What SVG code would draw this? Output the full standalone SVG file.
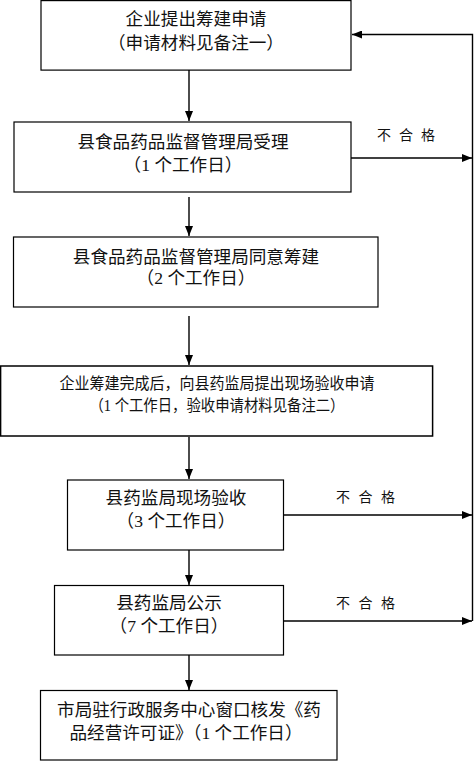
<svg xmlns="http://www.w3.org/2000/svg" width="475" height="762" viewBox="0 0 475 762">
<defs>
<marker id="ah" viewBox="0 0 10 8" refX="10" refY="4" markerWidth="10" markerHeight="8" markerUnits="userSpaceOnUse" orient="auto">
<path d="M0,0 L10,4 L0,8 Z" fill="#000"/>
</marker>
</defs>
<style>
.box{fill:#fff;stroke:#000;stroke-width:1.2}
.t{font-family:"Liberation Serif","Noto Sans CJK SC",serif;font-size:17.6px;fill:#111;text-anchor:middle}
.s{font-family:"Liberation Serif","Noto Sans CJK SC",serif;font-size:14px;fill:#111}
.c{fill:none;stroke:#000;stroke-width:1.4}
</style>
<rect width="475" height="762" fill="#fff"/>
<g id="n1"><rect class="box" x="41" y="0.6" width="310" height="69.5"/>
<text class="t" x="196" y="25">企业提出筹建申请</text>
<text class="t" x="196" y="49">（申请材料见备注一）</text></g>
<g id="n2"><rect class="box" x="14" y="122" width="337" height="70"/>
<text class="t" x="183" y="148">县食品药品监督管理局受理</text>
<text class="t" x="183" y="171">（1 个工作日）</text></g>
<g id="n3"><rect class="box" x="13.5" y="237" width="364.5" height="70"/>
<text class="t" x="196" y="263">县食品药品监督管理局同意筹建</text>
<text class="t" x="196" y="284">（2 个工作日）</text></g>
<g id="n4"><rect class="box" x="0.6" y="366" width="432" height="70" style="stroke-width:1.5"/>
<text class="t" x="217" y="389" textLength="315" lengthAdjust="spacingAndGlyphs" style="font-size:16px">企业筹建完成后，向县药监局提出现场验收申请</text>
<text class="t" x="217" y="411" textLength="255" lengthAdjust="spacingAndGlyphs" style="font-size:16px">（1 个工作日，验收申请材料见备注二）</text></g>
<g id="n5"><rect class="box" x="67.5" y="480" width="216" height="70"/>
<text class="t" x="176" y="504">县药监局现场验收</text>
<text class="t" x="176" y="527">（3 个工作日）</text></g>
<g id="n6"><rect class="box" x="54.5" y="585.5" width="229" height="69.5"/>
<text class="t" x="169" y="609">县药监局公示</text>
<text class="t" x="169" y="632">（7 个工作日）</text></g>
<g id="n7"><rect class="box" x="40.5" y="690.5" width="296.5" height="69.5"/>
<text class="t" x="189" y="716">市局驻行政服务中心窗口核发《药</text>
<text class="t" x="186" y="739">品经营许可证》（1 个工作日）</text></g>
<g id="connectors">
<line class="c" x1="189" y1="70" x2="189" y2="121" marker-end="url(#ah)"/>
<line class="c" x1="189" y1="197" x2="189" y2="236" marker-end="url(#ah)"/>
<line class="c" x1="189" y1="316" x2="189" y2="365" marker-end="url(#ah)"/>
<line class="c" x1="189" y1="437" x2="189" y2="479" marker-end="url(#ah)"/>
<line class="c" x1="189" y1="550" x2="189" y2="585" marker-end="url(#ah)"/>
<line class="c" x1="189" y1="655" x2="189" y2="690" marker-end="url(#ah)"/>
<line class="c" x1="351" y1="158" x2="472" y2="158" marker-end="url(#ah)"/>
<line class="c" x1="283.5" y1="515" x2="472" y2="515" marker-end="url(#ah)"/>
<line class="c" x1="283.5" y1="621" x2="472" y2="621" marker-end="url(#ah)"/>
<polyline class="c" points="472.5,621 472.5,34.5 352,34.5" marker-end="url(#ah)"/>
<text class="s" x="377" y="140" textLength="58" lengthAdjust="spacing">不 合 格</text>
<text class="s" x="336" y="502" textLength="59" lengthAdjust="spacing">不 合 格</text>
<text class="s" x="336" y="608" textLength="59" lengthAdjust="spacing">不 合 格</text>
</g>
</svg>
